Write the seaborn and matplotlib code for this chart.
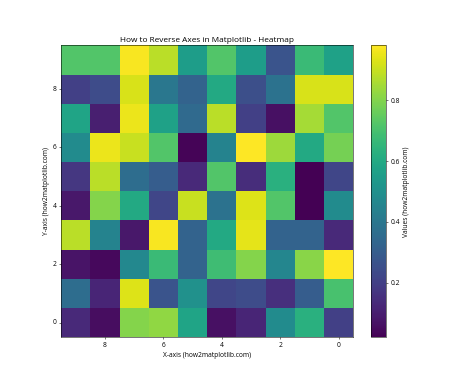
import numpy as np
import pandas as pd
import matplotlib
matplotlib.use("Agg")
import matplotlib.pyplot as plt
import seaborn as sns

plt.rcParams['font.family'] = ['Open Sans', 'DejaVu Sans']

# Values per row y (0..9), each listed for x = 0..9
y_labels = list(range(10))
x_labels = list(range(10))
row_y0 = [0.20, 0.63, 0.48, 0.12, 0.06, 0.58, 0.82, 0.80, 0.05, 0.13]
row_y1 = [0.70, 0.30, 0.15, 0.24, 0.22, 0.50, 0.27, 0.93, 0.12, 0.36]
row_y2 = [0.98, 0.81, 0.46, 0.80, 0.68, 0.32, 0.67, 0.47, 0.04, 0.07]
row_y3 = [0.13, 0.32, 0.32, 0.94, 0.60, 0.32, 0.97, 0.08, 0.45, 0.88]
row_y4 = [0.48, 0.02, 0.72, 0.93, 0.38, 0.90, 0.22, 0.60, 0.80, 0.08]
row_y5 = [0.22, 0.02, 0.63, 0.14, 0.72, 0.13, 0.30, 0.36, 0.88, 0.17]
row_y6 = [0.78, 0.60, 0.84, 0.98, 0.45, 0.03, 0.72, 0.90, 0.95, 0.48]
row_y7 = [0.72, 0.85, 0.06, 0.20, 0.88, 0.35, 0.57, 0.95, 0.10, 0.58]
row_y8 = [0.92, 0.92, 0.38, 0.25, 0.60, 0.32, 0.40, 0.92, 0.24, 0.20]
row_y9 = [0.57, 0.67, 0.27, 0.55, 0.72, 0.55, 0.88, 0.97, 0.72, 0.72]

data = pd.DataFrame([row_y0, row_y1, row_y2, row_y3, row_y4,
                     row_y5, row_y6, row_y7, row_y8, row_y9],
                    index=y_labels, columns=x_labels)

fig, ax = plt.subplots(figsize=(10, 8), dpi=47.4)
sns.heatmap(data, cmap='viridis', square=True, ax=ax,
            cbar_kws={'label': 'Values (how2matplotlib.com)',
                      'ticks': [0.2, 0.4, 0.6, 0.8]})

ax.invert_yaxis()
ax.invert_xaxis()

tick_vals = [0, 2, 4, 6, 8]
ax.set_xticks([v + 0.5 for v in tick_vals])
ax.set_xticklabels([str(v) for v in tick_vals], rotation=0)
ax.set_yticks([v + 0.5 for v in tick_vals])
ax.set_yticklabels([str(v) for v in tick_vals], rotation=0)
ax.tick_params(length=3.5, width=0.8, labelsize=10)

for s in ax.spines.values():
    s.set_visible(True)
    s.set_linewidth(0.8)

ax.set_title('How to Reverse Axes in Matplotlib - Heatmap', fontsize=12.5)
ax.set_xlabel('X-axis (how2matplotlib.com)', fontsize=10)
ax.set_ylabel('Y-axis (how2matplotlib.com)', fontsize=10)

cbar = ax.collections[0].colorbar
cbar.ax.tick_params(labelsize=10, length=3.5)
cbar.outline.set_visible(True)
cbar.outline.set_linewidth(0.8)
cbar.set_label('Values (how2matplotlib.com)', fontsize=10)

fig.savefig('out.png', dpi=47.4)
